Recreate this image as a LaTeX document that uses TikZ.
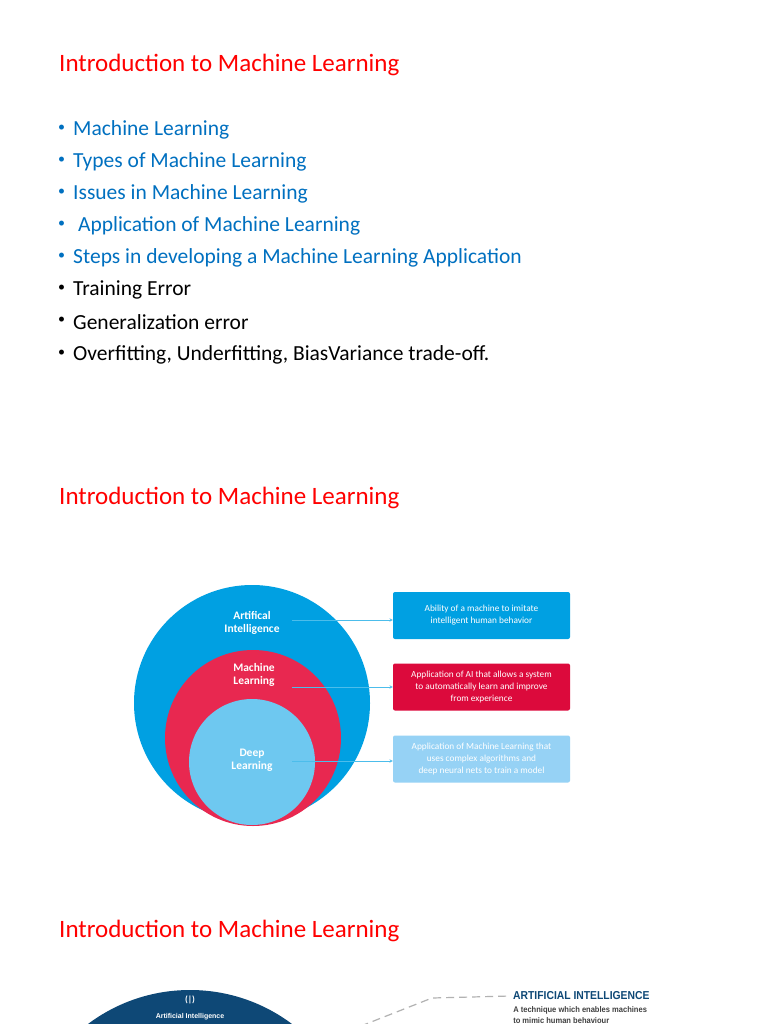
\documentclass[tikz,border=0pt]{standalone}
\usepackage{fontspec}
\setmainfont{Carlito}
\newfontfamily\arialf{Liberation Sans}
\begin{document}
\begin{tikzpicture}[x=1pt,y=-1pt]
\definecolor{titred}{RGB}{255,0,0}
\definecolor{bulblue}{RGB}{0,112,192}
\definecolor{aiblue}{RGB}{0,160,226}
\definecolor{mlred}{RGB}{232,40,80}
\definecolor{dlblue}{RGB}{110,200,240}
\definecolor{boxred}{RGB}{220,10,60}
\definecolor{boxlight}{RGB}{150,210,245}
\definecolor{navy}{RGB}{14,72,118}
\tikzset{title/.style={anchor=west,inner sep=0,text=titred,font=\fontsize{25}{30}\selectfont},
 bul/.style={anchor=west,inner sep=0,font=\fontsize{21.5}{26}\selectfont},
 dot/.style={anchor=west,inner sep=0,font=\fontsize{14}{16}\selectfont},
 circlab/.style={text=white,font=\bfseries\fontsize{11.5}{13.5}\selectfont,align=center},
 infobox/.style={rounded corners=2pt,minimum width=177,minimum height=47,text=white,font=\fontsize{9.3}{12}\selectfont,align=center},
 arr/.style={draw=aiblue!70,line width=0.5pt,->,>=stealth}}
\clip (0,0) rectangle (768,1024);
\fill[white] (0,0) rectangle (768,1024);
\node[title] (t1) at (59,65) {Introduction to Machine Learning};
\foreach \y/\c/\t [count=\i] in {130/bulblue/Machine Learning,162/bulblue/Types of Machine Learning,194/bulblue/Issues in Machine Learning,226/bulblue/{\ Application of Machine Learning},258/bulblue/Steps in developing a Machine Learning Application,290/black/Training Error,322/black/Generalization error,355/black/{Overfitting, Underfitting, BiasVariance trade-off.}}{
 \node[dot,text=\c] (d\i) at (58,\y-2) {•};
 \node[bul,text=\c] (b\i) at (73,\y) {\t};
}
\node[title] (t2) at (59,498) {Introduction to Machine Learning};
\fill[aiblue] (252,703) circle (118);
\fill[mlred] (253,738) circle (88);
\fill[dlblue] (252,762) circle (63);
\node[circlab] (ai) at (252,623) {Artifical\\Intelligence};
\node[circlab] (ml) at (254,675) {Machine\\Learning};
\node[circlab] (dl) at (252,760) {Deep\\Learning};
\node[infobox,fill=aiblue] (ib1) at (481.5,615.5) {Ability of a machine to imitate\\intelligent human behavior};
\node[infobox,fill=boxred] (ib2) at (481.5,687) {Application of AI that allows a system\\to automatically learn and improve\\from experience};
\node[infobox,fill=boxlight] (ib3) at (481.5,759) {Application of Machine Learning that\\uses complex algorithms and\\deep neural nets to train a model};
\coordinate (a1) at (292,620); \coordinate (a2) at (292,687); \coordinate (a3) at (292,761);
\draw[arr] (a1) -- (ib1.west|-a1);
\draw[arr] (a2) -- (ib2.west|-a2);
\draw[arr] (a3) -- (ib3.west|-a3);
\node[title] (t3) at (59,931) {Introduction to Machine Learning};
\fill[navy] (190,1160) circle (170);
\node[text=white,font=\bfseries\fontsize{9}{10}\selectfont] (brain) at (190,1000) {(|)};
\node[text=white,font=\arialf\bfseries\fontsize{7}{8}\selectfont] (ail) at (190,1017) {Artificial Intelligence};
\coordinate (d0) at (300,1050); \coordinate (d1) at (432,998);
\node[anchor=west,text=navy,font=\arialf\bfseries\fontsize{11.5}{13}\selectfont,xscale=0.9] (AIT) at (510,996) {ARTIFICIAL INTELLIGENCE};
\draw[gray!60,dashed,dash pattern=on 8pt off 5pt,line width=1.2pt] (d0) -- (d1) -- (AIT.west);
\node[anchor=north west,text=black!75,font=\arialf\bfseries\fontsize{8.2}{11}\selectfont,align=left,xscale=0.92] (AId) at (510,1003) {A technique which enables machines\\to mimic human behaviour};
\end{tikzpicture}
\end{document}
